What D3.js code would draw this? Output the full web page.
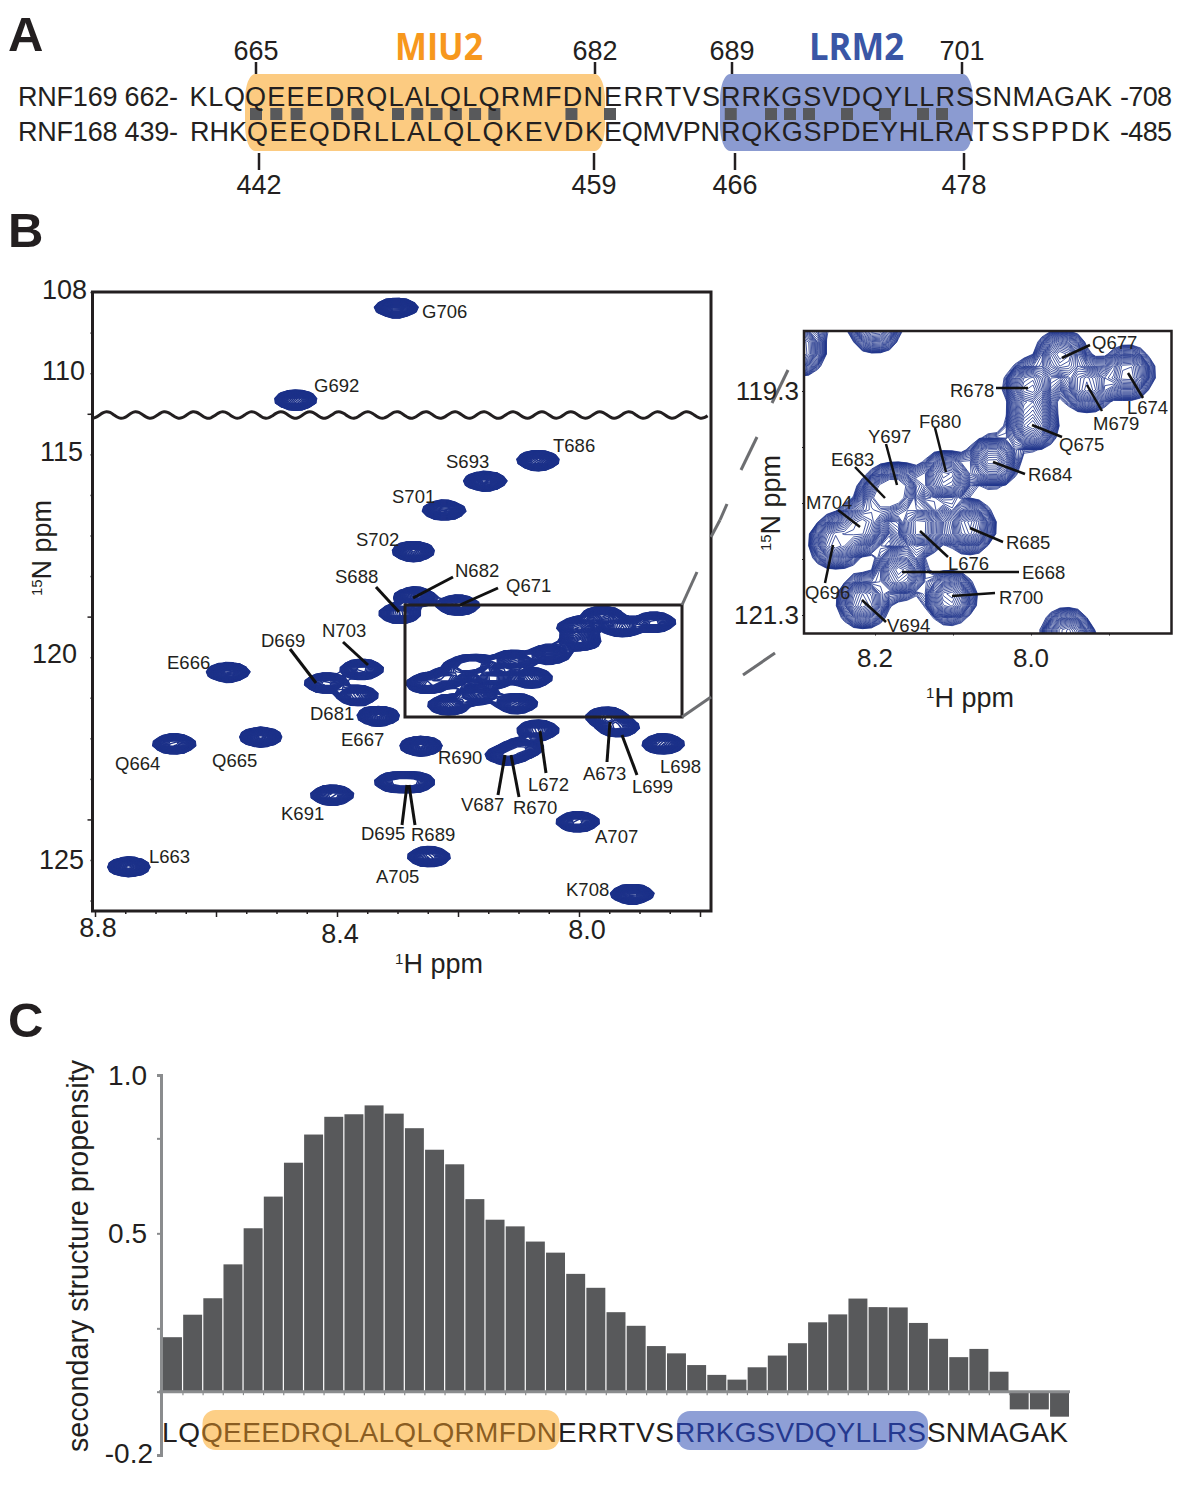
<!DOCTYPE html>
<html>
<head>
<meta charset="utf-8">
<script src="https://cdn.jsdelivr.net/npm/d3@7"></script>
<style>
  body { margin: 0; background: #fff; }
  text { font-family: "Liberation Sans", Arial, sans-serif; fill: #231f20; }
</style>
</head>
<body>
<svg id="fig" width="1184" height="1500"></svg>
<script>
// panel A: sequence alignment
let rnf169Segments = ["KLQ", "QEEEDRQLALQLQRMFDN", "ERRTVS", "RRKGSVDQYLLRS", "SNMAGAK"];
let rnf168Segments = ["RHK", "QEEQDRLLALQLQKEVDK", "EQMVPN", "RQKGSPDEYHLRA", "TSSPPDK"];
let identicalColumns = [3, 4, 5, 7, 8, 10, 11, 12, 13, 14, 15, 19, 21, 27, 29, 30, 31, 33, 35, 37, 38];
let topNumbers = ["665", "682", "689", "701"];
let bottomNumbers = ["442", "459", "466", "478"];

// panel B: 15N-HSQC peaks, 1H and 15N ppm
let peakNames = ["G706", "G692", "T686", "S693", "S701", "S702", "N682", "S688", "Q671", "N703", "D669", "E666",
  "D681", "E667", "Q664", "Q665", "R690", "K691", "D695", "R689", "L672", "R670", "V687", "A673", "L699", "L698",
  "A707", "A705", "L663", "K708", "Q677", "L674", "M679", "R678", "Q675", "R684", "F680", "Y697", "E683", "M704",
  "Q696", "L676", "R685", "E668", "V694", "R700"];
let peakH = [8.302, 8.468, 8.068, 8.155, 8.223, 8.274, 8.271, 8.296, 8.200, 8.359, 8.418, 8.580,
  8.367, 8.332, 8.669, 8.526, 8.261, 8.408, 8.302, 8.273, 8.068, 8.094, 8.119, 7.954, 7.936, 7.861,
  8.002, 8.248, 8.744, 7.912, 7.961, 7.876, 7.928, 8.001, 7.999, 8.049, 8.109, 8.171, 8.190, 8.217,
  8.251, 8.142, 8.079, 8.168, 8.215, 8.104];
let peakN = [108.39, 110.66, 115.15, 115.66, 116.38, 117.39, 118.52, 118.92, 118.72, 120.30, 120.64, 120.37,
  120.94, 121.45, 122.14, 121.97, 122.19, 123.40, 123.08, 123.08, 121.80, 122.24, 122.41, 121.48, 121.72, 122.14,
  124.06, 124.92, 125.17, 125.84, 118.99, 119.14, 119.25, 119.26, 119.60, 119.93, 120.07, 120.17, 120.25, 120.51,
  120.65, 120.52, 120.51, 120.92, 121.18, 121.14];
let mainHTicks = [8.8, 8.4, 8.0];
let mainNTicks = [108, 110, 115, 120, 125];
let insetHTicks = [8.2, 8.0];
let insetNTicks = [119.3, 121.3];

// panel C: secondary structure propensity
let propensity = [0.172, 0.243, 0.295, 0.402, 0.516, 0.616, 0.723, 0.812, 0.868, 0.876, 0.904, 0.878, 0.832, 0.764,
  0.718, 0.608, 0.543, 0.522, 0.474, 0.439, 0.372, 0.328, 0.251, 0.208, 0.144, 0.121, 0.084, 0.053, 0.038, 0.077,
  0.114, 0.153, 0.219, 0.244, 0.294, 0.267, 0.266, 0.217, 0.167, 0.109, 0.135, 0.063, -0.056, -0.056, -0.079];
let sequenceSegments = ["LQ", "QEEEDRQLALQLQRMFDN", "ERRTVS", "RRKGSVDQYLLRS", "SNMAGAK"];
let propensityTicks = [-0.2, 0, 0.2, 0.5, 0.8, 1.0];
let propensityLabels = [1.0, 0.5, -0.2];

const ORANGE = "#fccb81", BLUE = "#8b9bd1", BAR = "#58595b", GREY = "#8a8c8e", INK = "#231f20", PEAK = "#1c3189";
const svg = d3.select("#fig");

function panelLetter(s, y) {
  svg.append("text").attr("x", 8).attr("y", y).attr("font-size", 49).attr("font-weight", "bold").text(s);
}
panelLetter("A", 51);
panelLetter("B", 247);
panelLetter("C", 1037);

// stretch a run of letters between two x positions
function seqText(g, str, x0, x1, y, size, fill) {
  g.append("text").attr("x", x0).attr("y", y).attr("font-size", size)
    .attr("textLength", x1 - x0).attr("lengthAdjust", "spacing")
    .style("fill", fill || INK).text(str);
}

// ---------- panel A ----------
let a = svg.append("g");
a.append("rect").attr("x", 245).attr("y", 74).attr("width", 360).attr("height", 77)
  .attr("rx", 10).attr("ry", 26).attr("fill", ORANGE);
a.append("rect").attr("x", 720).attr("y", 74).attr("width", 253).attr("height", 77)
  .attr("rx", 10).attr("ry", 26).attr("fill", BLUE);

let colX = d3.scaleLinear().domain([3, 10, 21, 29, 38]).range([256, 398, 610, 771, 942]);
a.selectAll("rect.id").data(identicalColumns).enter().append("rect").attr("class", "id")
  .attr("x", d => colX(d) - 6).attr("y", 108).attr("width", 12).attr("height", 12).attr("fill", BAR);

let rowEdges169 = [189.5, 245, 604, 721, 974, 1113];
let rowEdges168 = [190, 247, 604, 721, 973, 1111];
rnf169Segments.forEach((s, i) => seqText(a, s, rowEdges169[i], rowEdges169[i + 1] - (i == 0 || i == 3 ? 0 : 1), 106, 27));
rnf168Segments.forEach((s, i) => seqText(a, s, rowEdges168[i], rowEdges168[i + 1] - (i == 0 || i == 3 ? 0 : 1), 141, 27));
seqText(a, "RNF169 662-", 18, 178, 106, 27);
seqText(a, "RNF168 439-", 18, 178, 141, 27);
seqText(a, "-708", 1120, 1172, 106, 27);
seqText(a, "-485", 1120, 1172, 141, 27);

let topTickX = [256, 595, 732, 962], bottomTickX = [259, 594, 735, 964];
topNumbers.forEach((n, i) => {
  a.append("text").attr("x", topTickX[i]).attr("y", 60).attr("font-size", 27).attr("text-anchor", "middle").text(n);
  a.append("line").attr("x1", topTickX[i]).attr("x2", topTickX[i]).attr("y1", 62).attr("y2", 74)
    .attr("stroke", INK).attr("stroke-width", 2.5);
});
bottomNumbers.forEach((n, i) => {
  a.append("text").attr("x", bottomTickX[i]).attr("y", 194).attr("font-size", 27).attr("text-anchor", "middle").text(n);
  a.append("line").attr("x1", bottomTickX[i]).attr("x2", bottomTickX[i]).attr("y1", 153).attr("y2", 170)
    .attr("stroke", INK).attr("stroke-width", 2.5);
});
function domainTitle(s, x0, x1, fill) {
  a.append("text").attr("x", x0).attr("y", 60).attr("font-size", 38).attr("font-weight", "bold")
    .attr("textLength", x1 - x0).attr("lengthAdjust", "spacingAndGlyphs")
    .style("font-family", "'Open Sans'").style("fill", fill).text(s);
}
domainTitle("MIU2", 395, 483, "#f7981d");
domainTitle("LRM2", 809, 904, "#3a56a6");

// ---------- panel B ----------
let frame = {left: 92.5, right: 711, top: 292, bottom: 911};
let x = d3.scaleLinear().domain([8.8, 7.8]).range([95, 700]);
// the 15N axis is broken between 111 and 114 ppm
let y = d3.scaleLinear().domain([108, 111, 114, 126.27]).range([292, 413.8, 413.8, 911.5]);

let inset = {left: 804, right: 1171.5, top: 331, bottom: 633.5};
let xIn = d3.scaleLinear().domain([8.2, 8.0]).range([875, 1031]);
let yIn = d3.scaleLinear().domain([119.3, 121.3]).range([391, 615]);

const dH = 0.0115, dN = 0.107, H0 = 8.86, N0 = 107.2, nH = 100, nN = 190;
const sigmaH = 0.0155, sigmaN = 0.105;
let grid = new Float64Array(nH * nN);
peakH.forEach((h, p) => {
  for (let j = 0; j < nN; j++) {
    let dy = (N0 + j * dN - peakN[p]) / sigmaN;
    if (Math.abs(dy) > 4) continue;
    for (let i = 0; i < nH; i++) {
      let dx = (H0 - i * dH - h) / sigmaH;
      if (Math.abs(dx) > 4) continue;
      grid[j * nH + i] += Math.exp(-0.5 * (dx * dx + dy * dy));
    }
  }
});
let levels = d3.range(0, 28).map(i => 0.085 * Math.pow(1.09, i));
let contourSets = d3.contours().size([nH, nN]).thresholds(levels)(grid);

function drawSpectrum(g, xs, ys, box, id, width) {
  svg.append("defs").append("clipPath").attr("id", id).append("rect")
    .attr("x", box.left).attr("y", box.top).attr("width", box.right - box.left).attr("height", box.bottom - box.top);
  // d3.contours puts grid value i at i + 0.5
  let projection = d3.geoTransform({
    point: function (i, j) { this.stream.point(xs(H0 - (i - 0.5) * dH), ys(N0 + (j - 0.5) * dN)); }
  });
  g.append("g").attr("clip-path", `url(#${id})`).selectAll("path").data(contourSets).enter().append("path")
    .attr("d", d3.geoPath(projection)).attr("fill", "none").attr("stroke", PEAK)
    .attr("stroke-width", width).attr("stroke-linejoin", "round");
}

let b = svg.append("g");
drawSpectrum(b, x, y, frame, "clipMain", 1.4);
drawSpectrum(b, xIn, yIn, inset, "clipInset", 0.8);

// axis ticks
let nMain = d3.range(108, 112).concat(d3.range(114, 127));
b.append("g").attr("transform", `translate(${frame.left},0)`)
  .call(d3.axisLeft(y).tickValues(nMain).tickSize(2).tickFormat(""))
  .call(g => g.select(".domain").remove())
  .call(g => g.selectAll(".tick line").attr("stroke", INK).attr("stroke-width", 1.5)
    .attr("x2", d => [114, 119, 124].includes(d) ? -5 : -2));
b.append("g").attr("transform", `translate(0,${frame.bottom})`)
  .call(d3.axisBottom(x).tickValues(d3.range(0, 21).map(i => 8.8 - i * 0.05)).tickSize(3).tickFormat(""))
  .call(g => g.select(".domain").remove())
  .call(g => g.selectAll(".tick line").attr("stroke", INK).attr("stroke-width", 1.5)
    .attr("y2", (d, i) => i % 4 == 0 ? 6 : 3));
b.append("g").attr("transform", `translate(${inset.left},0)`)
  .call(d3.axisLeft(yIn).tickValues([119.3, 119.8, 120.3, 120.8, 121.3]).tickSize(2).tickFormat(""))
  .call(g => g.select(".domain").remove())
  .call(g => g.selectAll(".tick line").attr("stroke", INK).attr("stroke-width", 1));
b.append("g").attr("transform", `translate(0,${inset.bottom})`)
  .call(d3.axisBottom(xIn).tickValues([8.2, 8.1, 8.0, 7.9]).tickSize(2).tickFormat(""))
  .call(g => g.select(".domain").remove())
  .call(g => g.selectAll(".tick line").attr("stroke", INK).attr("stroke-width", 1));

function boxRect(g, r, w) {
  g.append("rect").attr("x", r.left).attr("y", r.top).attr("width", r.right - r.left).attr("height", r.bottom - r.top)
    .attr("fill", "none").attr("stroke", INK).attr("stroke-width", w);
}
boxRect(b, frame, 3);
boxRect(b, inset, 2.5);
boxRect(b, {left: 405, right: 682, top: 605, bottom: 717}, 3);

// axis break
let wave = d3.line().curve(d3.curveBasis);
b.append("path").attr("fill", "none").attr("stroke", INK).attr("stroke-width", 3)
  .attr("d", wave(d3.range(92, 708, 3.6).map(v => [v, 415 + 3.6 * Math.sin((v - 92) / 29 * 2 * Math.PI + 1.5)])));

// grey zoom guides
let guides = [[682, 605, 697, 572], [720, 520, 711, 537], [727, 504, 720, 520], [757, 437, 741, 470], [788, 370, 772, 403],
  [682, 717, 711, 697], [743, 675, 775, 653]];
b.selectAll("line.guide").data(guides).enter().append("line").attr("class", "guide")
  .attr("x1", d => d[0]).attr("y1", d => d[1]).attr("x2", d => d[2]).attr("y2", d => d[3])
  .attr("stroke", "#6d6e71").attr("stroke-width", 3);

// tick labels sit slightly off their ticks in the figure
let mainHLabelX = [98, 340, 587], mainHLabelY = [937, 943, 939];
mainHTicks.forEach((t, i) => {
  b.append("text").attr("x", mainHLabelX[i]).attr("y", mainHLabelY[i]).attr("font-size", 27)
    .attr("text-anchor", "middle").text(t.toFixed(1));
});
let mainNLabelX = [87, 85, 83, 77, 84], mainNLabelDy = [7, 7, 7, 6, 9];
mainNTicks.forEach((t, i) => {
  b.append("text").attr("x", mainNLabelX[i]).attr("y", y(t) + mainNLabelDy[i]).attr("font-size", 27)
    .attr("text-anchor", "end").text(t);
});
insetHTicks.forEach(t => {
  b.append("text").attr("x", xIn(t)).attr("y", 667).attr("font-size", 26).attr("text-anchor", "middle").text(t.toFixed(1));
});
insetNTicks.forEach(t => {
  b.append("text").attr("x", 799).attr("y", yIn(t) + 9).attr("font-size", 26).attr("text-anchor", "end").text(t.toFixed(1));
});

function isotopeLabel(g, iso, rest, tx, ty, rotate) {
  let t = g.append("text").attr("font-size", 27).attr("text-anchor", "middle")
    .attr("transform", `translate(${tx},${ty})${rotate ? " rotate(-90)" : ""}`);
  t.append("tspan").attr("font-size", 15).attr("dy", -9).text(iso);
  t.append("tspan").attr("dy", 9).text(rest);
}
isotopeLabel(b, "1", "H ppm", 439, 973, false);
isotopeLabel(b, "15", "N ppm", 51, 548, true);
isotopeLabel(b, "1", "H ppm", 970, 707, false);
isotopeLabel(b, "15", "N ppm", 780, 503, true);

// residue labels: name, x, text centre y
let mainLabels = [["G706", 422, 311], ["G692", 314, 385], ["T686", 553, 445], ["S693", 446, 461], ["S701", 392, 496],
  ["S702", 356, 539], ["N682", 455, 570], ["Q671", 506, 585], ["S688", 335, 576], ["N703", 322, 630], ["D669", 261, 640],
  ["E666", 167, 662], ["D681", 310, 713], ["E667", 341, 739], ["Q664", 115, 763], ["Q665", 212, 760], ["R690", 438, 757],
  ["K691", 281, 813], ["D695", 361, 833], ["R689", 411, 834], ["L672", 528, 784], ["V687", 461, 804], ["R670", 513, 807],
  ["A673", 583, 773], ["L699", 632, 786], ["L698", 660, 766], ["A707", 595, 836], ["A705", 376, 876], ["L663", 149, 856],
  ["K708", 566, 889]];
let mainLeaders = [[413, 598, 453, 577], [460, 605, 498, 588], [399, 612, 376, 587], [368, 665, 343, 642], [316, 683, 290, 649],
  [407, 785, 402, 825], [409, 785, 415, 825], [540, 731, 546, 773], [505, 755, 498, 795], [511, 755, 519, 797],
  [610, 722, 607, 762], [622, 735, 637, 775]];
let insetLabels = [["Q677", 1092, 342], ["L674", 1127, 407], ["M679", 1093, 423], ["R678", 950, 390], ["Q675", 1059, 444],
  ["R684", 1028, 474], ["F680", 919, 421], ["Y697", 868, 436], ["E683", 831, 459], ["M704", 806, 502], ["Q696", 805, 592],
  ["R685", 1006, 542], ["L676", 948, 563], ["E668", 1022, 572], ["R700", 999, 597], ["V694", 887, 625]];
let insetLeaders = [[1062, 358, 1090, 345], [1128, 373, 1143, 398], [1087, 385, 1102, 411], [996, 388, 1028, 388], [1032, 425, 1062, 437],
  [993, 462, 1025, 474], [935, 428, 946, 472], [886, 444, 897, 485], [855, 467, 885, 498], [838, 510, 860, 527], [833, 545, 825, 583],
  [970, 528, 1003, 542], [920, 531, 948, 557], [902, 572, 1019, 572], [952, 596, 995, 593], [862, 600, 886, 622]];

function annotate(labels, leaders, w) {
  b.append("g").selectAll("line").data(leaders).enter().append("line")
    .attr("x1", d => d[0]).attr("y1", d => d[1]).attr("x2", d => d[2]).attr("y2", d => d[3])
    .attr("stroke", "#111").attr("stroke-width", w);
  b.append("g").selectAll("text").data(labels).enter().append("text")
    .attr("x", d => d[1]).attr("y", d => d[2] + 6.5).attr("font-size", 18.5).text(d => d[0]);
}
annotate(mainLabels, mainLeaders, 3);
annotate(insetLabels, insetLeaders, 2.5);

// ---------- panel C ----------
let c = svg.append("g");
let yC = d3.scaleLinear().domain([-0.2, 1]).range([1455, 1075]);
let xC = d3.scaleBand().domain(d3.range(propensity.length)).range([163, 1069]).paddingInner(0.06);

c.selectAll("rect.bar").data(propensity).enter().append("rect").attr("class", "bar")
  .attr("x", (d, i) => xC(i)).attr("width", xC.bandwidth())
  .attr("y", d => yC(Math.max(d, 0))).attr("height", d => Math.abs(yC(d) - yC(0)))
  .attr("fill", BAR);

c.append("g").attr("transform", `translate(0,${yC(0)})`)
  .call(d3.axisBottom(xC).tickValues(d3.range(0, propensity.length - 3)).tickSize(3.5).tickFormat(""))
  .call(g => g.select(".domain").remove())
  .call(g => g.selectAll(".tick line").attr("stroke", GREY).attr("stroke-width", 1.2)
    .attr("transform", `translate(${xC.bandwidth() / 2 + 1},0)`));
c.append("line").attr("x1", 159).attr("x2", 1070).attr("y1", yC(0)).attr("y2", yC(0))
  .attr("stroke", GREY).attr("stroke-width", 3);
c.append("g").attr("transform", "translate(161,0)")
  .call(d3.axisLeft(yC).tickValues(propensityTicks).tickSize(4).tickFormat(""))
  .call(g => g.select(".domain").attr("stroke", GREY).attr("stroke-width", 3))
  .call(g => g.selectAll(".tick line").attr("stroke", GREY).attr("stroke-width", 2));

let labelRight = [147, 147, 153];
propensityLabels.forEach((v, i) => {
  c.append("text").attr("x", labelRight[i]).attr("y", yC(v) + (v < 0 ? 8 : 10)).attr("font-size", 28)
    .attr("text-anchor", "end").text(v.toFixed(1));
});
c.append("text").attr("transform", "translate(88,1452) rotate(-90)").attr("font-size", 29)
  .attr("textLength", 392).attr("lengthAdjust", "spacingAndGlyphs").text("secondary structure propensity");

c.append("rect").attr("x", 202.5).attr("y", 1410).attr("width", 357).attr("height", 40).attr("rx", 13).attr("fill", "#fdcf86");
c.append("rect").attr("x", 677).attr("y", 1411).attr("width", 251).attr("height", 39).attr("rx", 13).attr("fill", "#8e9fd6");
let seqEdges = [162, 201, 558, 675, 927, 1069];
let seqColors = [INK, "#8a5d22", INK, "#25398f", INK];
sequenceSegments.forEach((s, i) => seqText(c, s, seqEdges[i], seqEdges[i + 1] - 1, 1442, 28, seqColors[i]));
</script>
</body>
</html>
